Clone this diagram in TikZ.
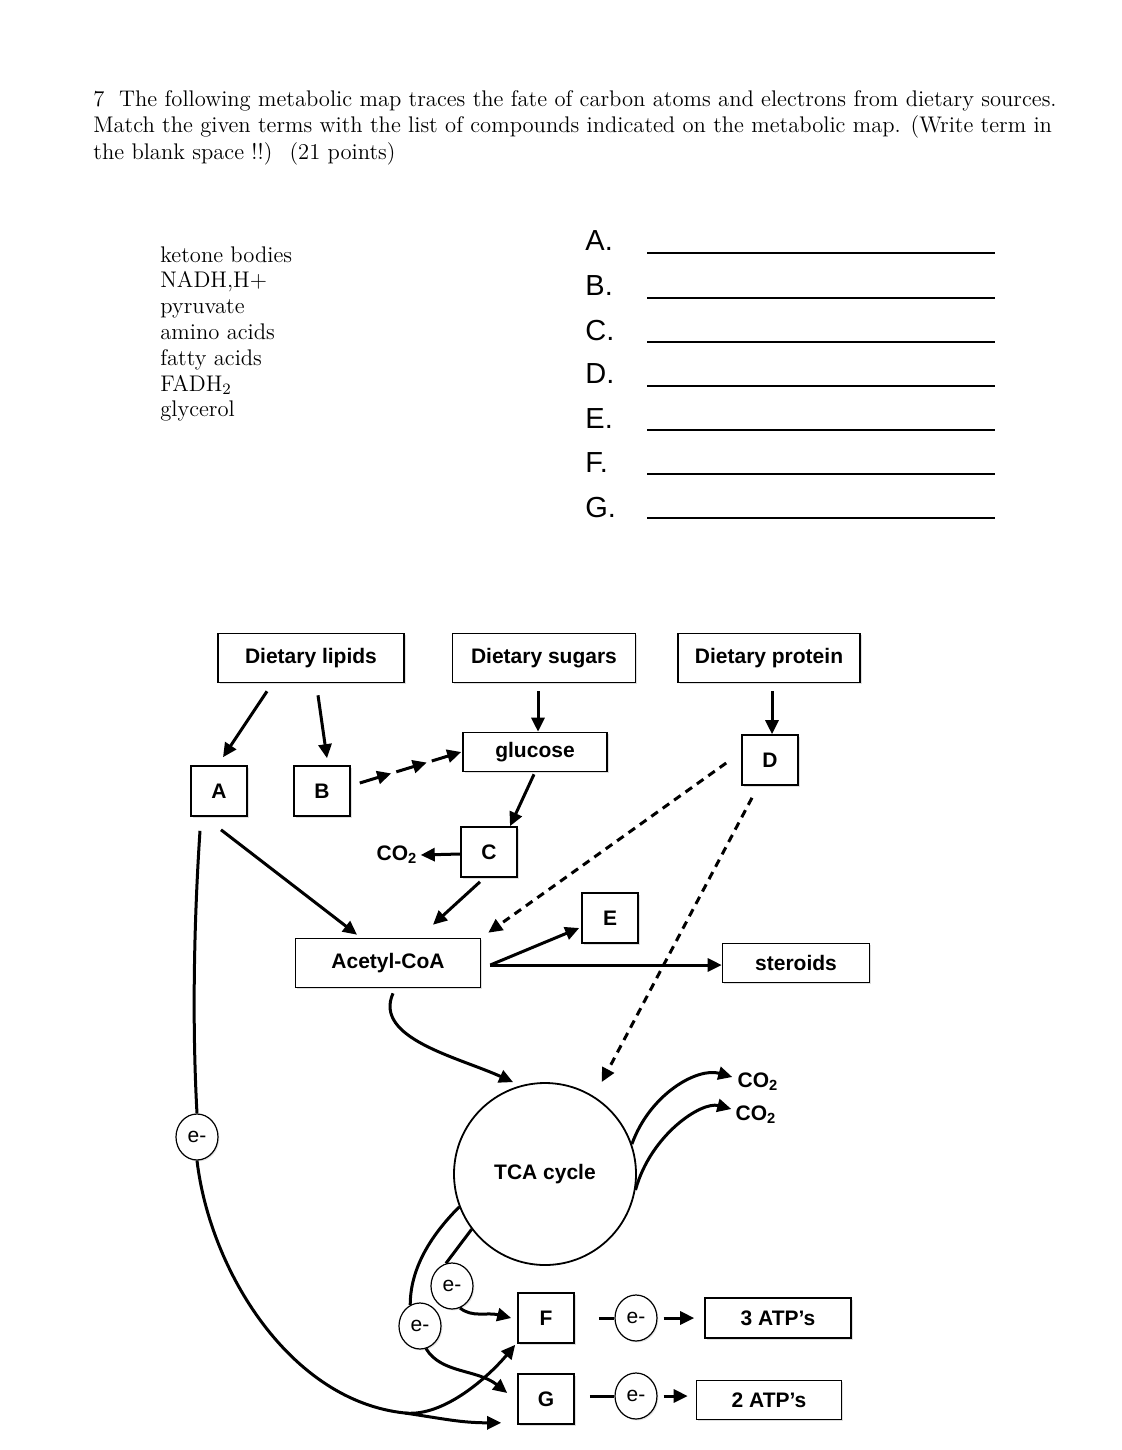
\documentclass[tikz,border=0pt]{standalone}
\usepackage{fontspec}
\setsansfont{Liberation Sans}
\usetikzlibrary{arrows.meta,shapes.geometric,calc,shadows}
\newcommand\hdrfont{\fontsize{11.3}{13}\selectfont}
\begin{document}
\begin{tikzpicture}[x=0.5pt,y=-0.5pt,
  box/.style={draw, line width=0.8pt, fill=white, inner sep=0pt,
    font=\sffamily\bfseries\fontsize{10.5}{12}\selectfont,
    drop shadow={shadow xshift=0.9pt, shadow yshift=-0.9pt, opacity=0.25}},
  sbox/.style={box, minimum width=28pt, minimum height=25pt},
  elec/.style={ellipse, draw, line width=0.6pt, fill=white, inner sep=0pt,
    minimum width=21pt, minimum height=23pt,
    font=\sffamily\fontsize{10.5}{12}\selectfont,
    drop shadow={shadow xshift=0.7pt, shadow yshift=-0.7pt, opacity=0.2}},
  lbl/.style={inner sep=1pt, font=\sffamily\bfseries\fontsize{10.5}{12}\selectfont},
  txt/.style={anchor=base west, inner sep=0pt, font=\hdrfont},
  letter/.style={anchor=base west, inner sep=0pt, font=\sffamily\fontsize{14.5}{16}\selectfont},
  blank/.style={line width=0.6pt},
  ln/.style={line width=1.5pt},
  arr/.style={line width=1.5pt, -{Triangle[length=7pt,width=6.5pt]}},
  dsh/.style={dash pattern=on 4pt off 3pt}]
\useasboundingbox (0,0) rectangle (1121,1450);
\fill[white] (0,0) rectangle (1121,1450);

% question text
\node[txt] (q1) at (93,107) {7~ The following metabolic map traces the fate of carbon atoms and electrons from dietary sources.};
\node[txt] (q2) at (93,133) {Match the given terms with the list of compounds indicated on the metabolic map. (Write term in};
\node[txt] (q3) at (93,159) {the blank space !!)~ (21 points)};

% terms
\node[txt] (t1) at (160,262) {ketone bodies};
\node[txt] (t2) at (160,287.8) {NADH,H+};
\node[txt] (t3) at (160,313.6) {pyruvate};
\node[txt] (t4) at (160,339.4) {amino acids};
\node[txt] (t5) at (160,365.2) {fatty acids};
\node[txt] (t6) at (160,391) {FADH\textsubscript{2}};
\node[txt] (t7) at (160,416.8) {glycerol};

% answer letters and blanks
\node[letter] (la) at (585,250) {A.};
\node[letter] (lb) at (585,295) {B.};
\node[letter] (lc) at (585,340) {C.};
\node[letter] (ld) at (585,383) {D.};
\node[letter] (le) at (585,428) {E.};
\node[letter] (lf) at (585,472) {F.};
\node[letter] (lg) at (585,517) {G.};
\foreach \y in {253,298,342,386,430,474,518}
  \draw[blank] (647,\y) -- (995,\y);

% diagram nodes
\node[box, minimum width=93pt, minimum height=24.5pt] (lipids) at (311,658) {Dietary lipids};
\node[box, minimum width=91.5pt, minimum height=24.5pt] (sugars) at (544,658) {Dietary sugars};
\node[box, minimum width=91pt, minimum height=24.5pt] (protein) at (769,658) {Dietary protein};
\node[box, minimum width=72pt, minimum height=19.5pt] (glucose) at (535,752) {glucose};
\node[sbox] (D) at (770,760) {D};
\node[sbox] (A) at (219,791) {A};
\node[sbox] (B) at (322,791) {B};
\node[sbox] (C) at (489,852) {C};
\node[sbox] (E) at (610,918) {E};
\node[box, minimum width=92.5pt, minimum height=24.5pt] (acetyl) at (388,963) {Acetyl-CoA};
\node[box, minimum width=73.5pt, minimum height=19.5pt] (steroids) at (796,963) {steroids};
\node[circle, draw, line width=0.9pt, minimum size=91pt, inner sep=0pt,
  font=\sffamily\bfseries\fontsize{10.5}{12}\selectfont] (tca) at (545,1174) {TCA cycle};
\node[sbox] (F) at (546,1318) {F};
\node[sbox] (G) at (546,1399) {G};
\node[box, minimum width=73pt, minimum height=20pt] (atp3) at (778,1318) {3 ATP’s};
\node[box, minimum width=72.5pt, minimum height=19.5pt] (atp2) at (769,1400) {2 ATP’s};
\node[lbl] (co2c) at (397,855) {CO\textsubscript{2}};
\node[lbl] (co2a) at (758,1082) {CO\textsubscript{2}};
\node[lbl] (co2b) at (756,1115) {CO\textsubscript{2}};
\node[elec] (e1) at (197,1137) {e-};
\node[elec] (e2) at (452,1286) {e-};
\node[elec] (e3) at (420,1326) {e-};
\node[elec] (e4) at (636,1318) {e-};
\node[elec] (e5) at (636,1396) {e-};

% top arrows
\draw[arr] ($(lipids.south)+(-44,8)$) -- ($(A.north)+(4,-8)$);
\draw[arr] ($(lipids.south)+(7,12)$) -- ($(B.north)+(5,-7)$);
\draw[arr] ($(sugars.south)+(-6,8)$) -- ($(glucose.north)+(3,0)$);
\draw[arr] ($(protein.south)+(3,8)$) -- ($(D.north)+(2,0)$);

% B to glucose (multi-step)
\coordinate (bg1) at ($(B.east)+(9,-8)$);
\coordinate (bg2) at ($(glucose.west)+(-1,0)$);
\draw[arr] (bg1) -- ($(bg1)!0.31!(bg2)$);
\draw[arr] ($(bg1)!0.36!(bg2)$) -- ($(bg1)!0.66!(bg2)$);
\draw[arr] ($(bg1)!0.71!(bg2)$) -- (bg2);

\draw[arr] ($(glucose.south)+(-1,2)$) -- ($(C.north)+(21,0)$);
\draw[arr] ($(C.west)+(0,2)$) -- ($(co2c.east)+(1,0)$);
\draw[arr] ($(C.south)+(-9,4)$) -- ($(acetyl.north)+(45,-13)$);
\draw[arr] ($(A.south)+(2,13)$) -- ($(acetyl.north)+(-31,-3)$);
\draw[arr,dsh] ($(D.west)+(-15,3)$) -- ($(acetyl.north east)+(7,-5)$);
\draw[arr,dsh] ($(D.south)+(-18,12)$) -- ($(tca.58)+(8,-14)$);
\draw[arr] ($(acetyl.east)+(9,2)$) -- ($(E.west)+(-2,10)$);
\draw[arr] ($(acetyl.east)+(9,2)$) -- ($(steroids.west)+(0,2)$);

% acetyl-CoA into TCA
\coordinate (ac1) at ($(acetyl.south)+(5,5)$);
\coordinate (ac2) at ($(tca.109)+(-2,-5)$);
\draw[arr] (ac1) .. controls ($(ac1)+(-20,45)$) and ($(ac2)+(-55,-25)$) .. (ac2);

% CO2 release
\coordinate (u1) at (tca.19);
\coordinate (u2) at ($(co2a.west)+(-3,-5)$);
\draw[arr] (u1) .. controls ($(u1)+(18,-50)$) and ($(u2)+(-35,-10)$) .. (u2);
\coordinate (l1) at (tca.-10);
\coordinate (l2) at ($(co2b.west)+(-2,-6)$);
\draw[arr] (l1) .. controls ($(l1)+(15,-55)$) and ($(l2)+(-30,-8)$) .. (l2);

% electrons from A
\coordinate (a1) at ($(A.south)+(-19,14)$);
\draw[ln] (a1) .. controls ($(a1)+(-6,90)$) and ($(e1.north)+(-5,-90)$) .. (e1.north);
\coordinate (es) at (405,1413);
\draw[ln] (e1.south) .. controls ($(e1.south)+(13,110)$) and ($(es)+(-115,-12)$) .. (es);
\coordinate (gEnd) at ($(G.south west)+(-16,-2)$);
\draw[arr] (es) .. controls ($(es)+(40,6)$) and ($(gEnd)+(-40,0)$) .. (gEnd);
\coordinate (fEnd) at ($(F.south west)+(-2,1)$);
\draw[arr] (es) .. controls ($(es)+(40,4)$) and ($(fEnd)+(-25,30)$) .. (fEnd);

% electrons from TCA
\draw[ln] (tca.217) -- (e2.105);
\draw[ln] (tca.201) .. controls ($(tca.201)+(-35,35)$) and ($(e3.115)+(0,-30)$) .. (e3.115);
\draw[arr] (e2.-70) .. controls ($(e2.-70)+(12,10)$) and ($(F.west)+(-30,-6)$) .. ($(F.west)+(-6,0)$);
\draw[arr] (e3.-75) .. controls ($(e3.-75)+(15,25)$) and ($(G.west)+(-40,-30)$) .. ($(G.west)+(-10,-6)$);

% electron transport to ATP
\draw[ln] ($(F.east)+(24,0)$) -- (e4.west);
\draw[arr] ($(e4.east)+(6,0)$) -- ($(atp3.west)+(-10,0)$);
\draw[ln] ($(G.east)+(15,-3)$) -- (e5.west);
\draw[arr] ($(e5.east)+(6,0)$) -- ($(atp2.west)+(-8,-4)$);
\end{tikzpicture}
\end{document}
